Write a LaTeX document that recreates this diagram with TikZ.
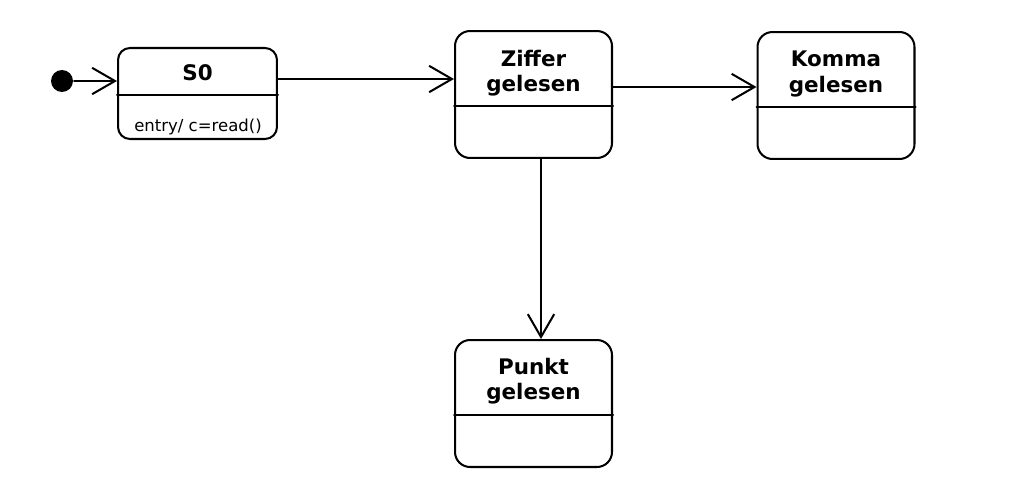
\documentclass[tikz,border=0pt]{standalone}
\usepackage{fontspec}
\setmainfont{DejaVu Sans}
\usetikzlibrary{arrows.meta}
\usetikzlibrary{positioning}

\begin{document}
\begin{tikzpicture}[line cap=round,line join=round,x=0.02cm,y=-0.02cm,line width=1.15pt,
    >={Straight Barb[length=13pt,width=15pt,line width=1.15pt]},
    zustand/.style={draw, rounded corners=0.3cm, minimum width=3.14cm, minimum height=2.54cm, inner sep=0pt},
    titel/.style={align=center, font=\fontsize{12.2}{14.3}\selectfont\bfseries}]
\useasboundingbox (0,0) rectangle (1024,497);

% Startzustand
\node (start) [circle, fill=black, minimum size=0.44cm, inner sep=0pt] at (62,81) {};

% S0
\node (s0) [zustand, rounded corners=0.24cm, minimum width=3.18cm, minimum height=1.82cm] at (197.5,93.5) {};
\node (s0titel) [titel] at (197.5,73) {S0};
\draw (s0.west |- 0,95) -- (s0.east |- 0,95);
\node (s0entry) [font=\fontsize{9.4}{11}\selectfont] at (198,127) {entry/ c=read()};

% Ziffer gelesen
\node (ziffer) [zustand] at (533.5,94.5) {};
\node (ziffertitel) [titel] at (533.5,73) {Ziffer\\gelesen};
\draw (ziffer.west |- 0,106) -- (ziffer.east |- 0,106);

% Komma gelesen
\node (komma) [zustand] at (836,95.5) {};
\node (kommatitel) [titel] at (836,74) {Komma\\gelesen};
\draw (komma.west |- 0,107) -- (komma.east |- 0,107);

% Punkt gelesen
\node (punkt) [zustand] at (533.5,403.5) {};
\node (punkttitel) [titel] at (533.5,381.5) {Punkt\\gelesen};
\draw (punkt.west |- 0,415) -- (punkt.east |- 0,415);

% Transitionen
\draw[->] (start) -- (start -| s0.west);
\draw[->] (s0.east |- 0,79) -- (ziffer.west |- 0,79);
\draw[->] (ziffer.east |- 0,87) -- (komma.west |- 0,87);
\draw[->] (ziffer.south -| 541,0) -- (punkt.north -| 541,0);
\end{tikzpicture}
\end{document}
